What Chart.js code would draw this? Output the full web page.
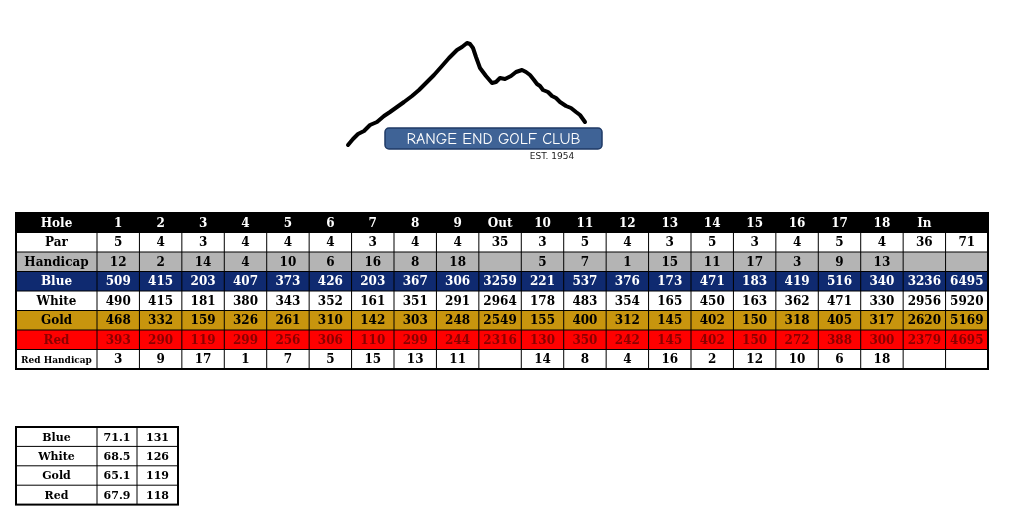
<!DOCTYPE html>
<html><head><meta charset="utf-8">
<script src="https://cdn.jsdelivr.net/npm/chart.js@4"></script>
<style>body{margin:0;background:#fff}canvas{display:block}</style></head>
<body><canvas id="c" width="1035" height="521"></canvas>
<script>
const holes=["1","2","3","4","5","6","7","8","9","Out","10","11","12","13","14","15","16","17","18","In",""];
const par=["5","4","3","4","4","4","3","4","4","35","3","5","4","3","5","3","4","5","4","36","71"];
const handicap=["12","2","14","4","10","6","16","8","18","","5","7","1","15","11","17","3","9","13","",""];
const blue=["509","415","203","407","373","426","203","367","306","3259","221","537","376","173","471","183","419","516","340","3236","6495"];
const white=["490","415","181","380","343","352","161","351","291","2964","178","483","354","165","450","163","362","471","330","2956","5920"];
const gold=["468","332","159","326","261","310","142","303","248","2549","155","400","312","145","402","150","318","405","317","2620","5169"];
const red=["393","290","119","299","256","306","110","299","244","2316","130","350","242","145","402","150","272","388","300","2379","4695"];
const redHandicap=["3","9","17","1","7","5","15","13","11","","14","8","4","16","2","12","10","6","18","",""];
const rowLabels=["Hole","Par","Handicap","Blue","White","Gold","Red","Red Handicap"];
const ratingTees=["Blue","White","Gold","Red"];
const ratingValues=["71.1","68.5","65.1","67.9"];
const slopeValues=["131","126","119","118"];
const logoX=[348,353,358,364,370,377,384,390,397,404,412,419,427,434,442,449,457,462,467,470,473,476,480,486,492,496,500,505,511,516,522,526,530,534,537,540,543,548,552,556,560,566,571,576,580,585];
const logoY=[145,139,134,131,125,122,116,112,107,102,96,90,82,75,66,58,50,47,43,44,48,57,68,76,83,82,78,79,76,72,70,72,75,80,84,86,90,92,96,98,102,106,108,112,115,122];

const rows=[holes,par,handicap,blue,white,gold,red,redHandicap];
const rowStyle=[
 {bg:'#000000',fg:'#ffffff'},{bg:'#ffffff',fg:'#000000'},{bg:'#b4b4b4',fg:'#000000'},
 {bg:'#0f2a70',fg:'#ffffff'},{bg:'#ffffff',fg:'#000000'},{bg:'#c8950e',fg:'#000000'},
 {bg:'#ff0000',fg:'#8b0000'},{bg:'#ffffff',fg:'#000000'}];
const FONT='"DejaVu Serif", "Liberation Serif", serif';

const tables={id:'tables',afterDatasetsDraw(chart){
 const ctx=chart.ctx,xs=chart.scales.x,ys=chart.scales.y;
 const X=v=>xs.getPixelForValue(v),Y=v=>ys.getPixelForValue(v);
 ctx.save();
 const bx=X(385),by=Y(128),bw=X(602)-bx,bh=Y(149)-by;
 ctx.fillStyle='#3f6396';ctx.strokeStyle='#1f3a66';ctx.lineWidth=1.5;
 ctx.beginPath();ctx.roundRect(bx,by,bw,bh,4);ctx.fill();ctx.stroke();
 ctx.fillStyle='#fff';ctx.font='16px "Comic Neue","DejaVu Sans",sans-serif';ctx.textAlign='center';ctx.textBaseline='middle';
 ctx.fillText('RANGE END GOLF CLUB',bx+bw/2,by+bh/2+1);
 ctx.fillStyle='#222';ctx.font='9px "DejaVu Sans",sans-serif';ctx.fillText('EST. 1954',X(552),Y(157));
 const x0=16,xl=97,x1=988,y0=213,rh=19.5,cw=(x1-xl)/holes.length;
 rows.forEach((r,i)=>{
  const st=rowStyle[i],top=Y(y0+i*rh),bot=Y(y0+(i+1)*rh);
  ctx.fillStyle=st.bg;ctx.fillRect(X(x0),top,X(x1)-X(x0),bot-top);
  ctx.fillStyle=st.fg;ctx.textAlign='center';ctx.textBaseline='middle';
  ctx.font=(i==7?'bold 9px ':'bold 12px ')+FONT;
  ctx.fillText(rowLabels[i],(X(x0)+X(xl))/2,(top+bot)/2+1);
  ctx.font='bold 12px '+FONT;
  r.forEach((v,j)=>ctx.fillText(v,X(xl+(j+0.5)*cw),(top+bot)/2+1));
 });
 ctx.strokeStyle='#000';ctx.lineWidth=1;
 for(let i=1;i<rows.length;i++){ctx.beginPath();ctx.moveTo(X(x0),Y(y0+i*rh));ctx.lineTo(X(x1),Y(y0+i*rh));ctx.stroke();}
 for(let j=0;j<holes.length;j++){const xx=X(xl+j*cw);ctx.beginPath();ctx.moveTo(xx,Y(y0+rh));ctx.lineTo(xx,Y(y0+rows.length*rh));ctx.stroke();}
 ctx.lineWidth=2;ctx.strokeRect(X(x0),Y(y0),X(x1)-X(x0),Y(y0+rows.length*rh)-Y(y0));
 const ty=427,tr=19.4,cx=[16,97,137,178];
 ctx.font='bold 11px '+FONT;ctx.fillStyle='#000';
 ratingTees.forEach((t,i)=>{
  const cy=Y(ty+(i+0.5)*tr)+1;
  [t,ratingValues[i],slopeValues[i]].forEach((v,j)=>ctx.fillText(v,(X(cx[j])+X(cx[j+1]))/2,cy));
 });
 ctx.lineWidth=1;
 for(let i=1;i<4;i++){ctx.beginPath();ctx.moveTo(X(16),Y(ty+i*tr));ctx.lineTo(X(178),Y(ty+i*tr));ctx.stroke();}
 [97,137].forEach(v=>{ctx.beginPath();ctx.moveTo(X(v),Y(ty));ctx.lineTo(X(v),Y(ty+4*tr));ctx.stroke();});
 ctx.lineWidth=2;ctx.strokeRect(X(16),Y(ty),X(178)-X(16),Y(ty+4*tr)-Y(ty));
 ctx.restore();
}};

new Chart(document.getElementById('c'),{
 type:'line',
 data:{datasets:[{data:logoX.map((x,i)=>({x,y:logoY[i]})),borderColor:'#000',borderWidth:4,pointRadius:0,tension:0,borderCapStyle:'round',borderJoinStyle:'round'}]},
 options:{responsive:false,animation:false,layout:{padding:0},
  plugins:{legend:{display:false},tooltip:{enabled:false}},
  scales:{x:{type:'linear',min:0,max:1035,display:false},y:{type:'linear',min:0,max:521,reverse:true,display:false}}},
 plugins:[tables]
});
</script></body></html>
